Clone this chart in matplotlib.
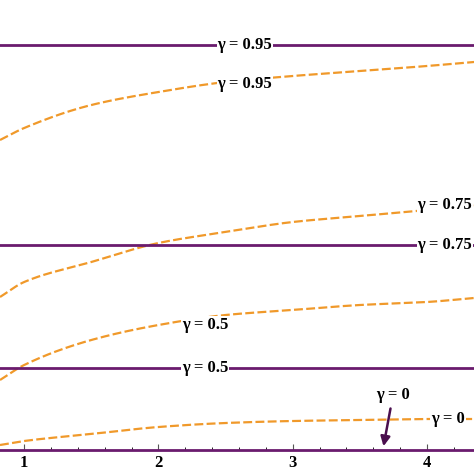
import matplotlib
matplotlib.use("Agg")
import matplotlib.pyplot as plt
import numpy as np

x = [0.82, 1.0, 1.5, 2.0, 2.5, 3.0, 3.5, 4.0, 4.35]
o95 = [3.10, 3.22, 3.45, 3.58, 3.68, 3.74, 3.79, 3.84, 3.88]
o75 = [1.53, 1.68, 1.88, 2.07, 2.18, 2.28, 2.34, 2.40, 2.45]
o50 = [0.70, 0.85, 1.10, 1.25, 1.35, 1.40, 1.45, 1.48, 1.52]
o00 = [0.05, 0.09, 0.16, 0.23, 0.27, 0.29, 0.30, 0.31, 0.31]
p_levels = [4.05, 2.05, 0.82, 0.0]

def pchip(xk, yk, xs):
    xk = np.asarray(xk, float); yk = np.asarray(yk, float)
    h = np.diff(xk); d = np.diff(yk) / h
    m = np.zeros_like(yk)
    for i in range(1, len(xk) - 1):
        if d[i-1] * d[i] > 0:
            w1 = 2*h[i] + h[i-1]; w2 = h[i] + 2*h[i-1]
            m[i] = (w1 + w2) / (w1/d[i-1] + w2/d[i])
    m[0] = d[0]; m[-1] = d[-1]
    idx = np.clip(np.searchsorted(xk, xs) - 1, 0, len(h) - 1)
    t = (xs - xk[idx]) / h[idx]
    h00 = 2*t**3 - 3*t**2 + 1; h10 = t**3 - 2*t**2 + t
    h01 = -2*t**3 + 3*t**2; h11 = t**3 - t**2
    return h00*yk[idx] + h10*h[idx]*m[idx] + h01*yk[idx+1] + h11*h[idx]*m[idx+1]

fig = plt.figure(figsize=(4.74, 4.74), dpi=100)
ax = fig.add_axes([0, 24/474, 1, 450/474])
ax.set_xlim(0.82, 0.82 + 474/134.3)
ax.set_ylim(0, 4.5)
purple = "#6a1b6e"; orange = "#f0992a"
xs = np.linspace(x[0], x[-1], 300)
for ys in (o95, o75, o50, o00):
    ax.plot(xs, pchip(x, ys, xs), color=orange, ls=(0, (4, 1.5)), lw=1.6)
for lv in p_levels:
    ax.axhline(lv, color=purple, lw=2, clip_on=False)

font = dict(family="Liberation Serif", weight="bold", fontsize=12)
bb = dict(facecolor="white", edgecolor="none", pad=0.5)
def px(p): return 0.82 + p/134.3
def py(p): return (450 - p)/100
labels = [(245, 45, "0.95"), (245, 84, "0.95"), (445, 205, "0.75"), (445, 245, "0.75"),
          (205, 325, "0.5"), (205, 368, "0.5"), (448, 419, "0")]
for X, Y, t in labels:
    ax.text(px(X), py(Y), "γ = " + t, ha="center", va="center", bbox=bb, **font)
ax.annotate("γ = 0", xy=(px(383), py(449)), xytext=(px(393), py(395)),
            ha="center", va="center", **font,
            arrowprops=dict(arrowstyle="-|>", color="#4a0e4e", lw=1.8, mutation_scale=14))

for s in ("left", "right", "top", "bottom"):
    ax.spines[s].set_visible(False)
ax.set_yticks([])
ax.set_xticks([1, 2, 3, 4])
ax.set_xticks(np.arange(1.0, 4.4, 0.2), minor=True)
ax.tick_params(axis="x", direction="in", length=4, colors="#555555", labelcolor="black")
ax.tick_params(axis="x", which="minor", direction="in", length=2)
for lab in ax.get_xticklabels():
    lab.set_fontfamily("Liberation Serif"); lab.set_fontweight("bold"); lab.set_fontsize(12)
fig.savefig("out.png", dpi=100)
